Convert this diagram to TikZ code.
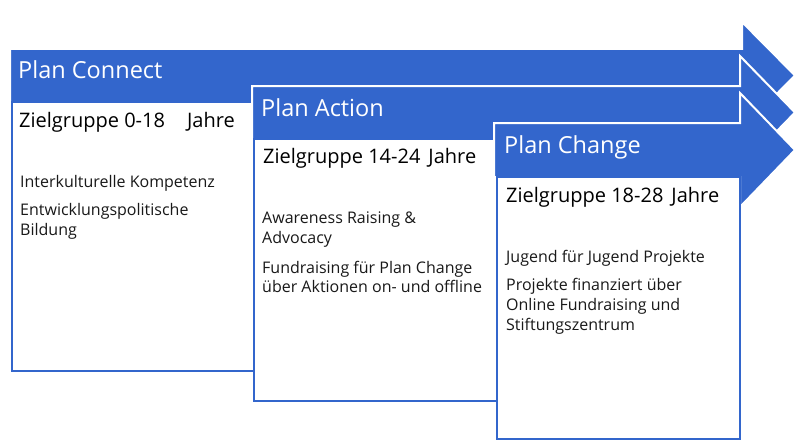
\documentclass[tikz,border=0pt]{standalone}
\usepackage{fontspec}
\setmainfont{Open Sans}
\definecolor{planblue}{RGB}{51,102,204}
\begin{document}
\begin{tikzpicture}[x=1pt,y=-1pt,
  arrowshape/.style={fill=planblue,draw=white,line width=2pt,line join=miter},
  boxshape/.style={fill=white,draw=planblue,line width=2pt},
  title/.style={anchor=base west,inner sep=0pt,text=white,font=\fontsize{23.5}{28}\selectfont},
  group/.style={anchor=base west,inner sep=0pt,text=black,font=\fontsize{20}{24}\selectfont},
  item/.style={anchor=base west,inner sep=0pt,text=black!90,font=\fontsize{16}{20}\selectfont}]
\useasboundingbox (0,0) rectangle (800,444);
% arrow 1
\path[arrowshape] (10,49) -- (742,49) -- (742,22) -- (795,75.5) -- (742,129) -- (742,102) -- (10,102) -- cycle;
\path[boxshape] (12,102) rectangle (254,371);
% arrow 2
\path[arrowshape] (252,86) -- (740,86) -- (740,56) -- (795,112.5) -- (740,169) -- (740,139) -- (252,139) -- cycle;
\path[boxshape] (254,139) rectangle (497,401);
% arrow 3
\path[arrowshape] (494,123) -- (740,123) -- (740,93) -- (795,150) -- (740,207) -- (740,177) -- (494,177) -- cycle;
\path[boxshape] (497,177) rectangle (740,439);
% titles
\node[title] (t1) at (18,78) {Plan Connect};
\node[title] (t2) at (261,116) {Plan Action};
\node[title] (t3) at (504,153) {Plan Change};
% groups
\node[group] (g1) at (19,127) {Zielgruppe 0-18\hspace{1.1em}Jahre};
\node[group] (g2) at (263,163) {Zielgruppe 14-24\hspace{0.4em}Jahre};
\node[group] (g3) at (506,202) {Zielgruppe 18-28\hspace{0.4em}Jahre};
% items
\node[item] (a1) at (20,187) {Interkulturelle Kompetenz};
\node[item] (a2) at (20,215) {Entwicklungspolitische};
\node[item] (a3) at (20,235) {Bildung};
\node[item] (b1) at (262,223) {Awareness Raising \&};
\node[item] (b2) at (262,243) {Advocacy};
\node[item] (b3) at (262,273) {Fundraising für Plan Change};
\node[item] (b4) at (262,292) {über Aktionen on- und offline};
\node[item] (c1) at (506,262) {Jugend für Jugend Projekte};
\node[item] (c2) at (506,290) {Projekte finanziert über};
\node[item] (c3) at (506,310) {Online Fundraising und};
\node[item] (c4) at (506,330) {Stiftungszentrum};
\end{tikzpicture}
\end{document}
